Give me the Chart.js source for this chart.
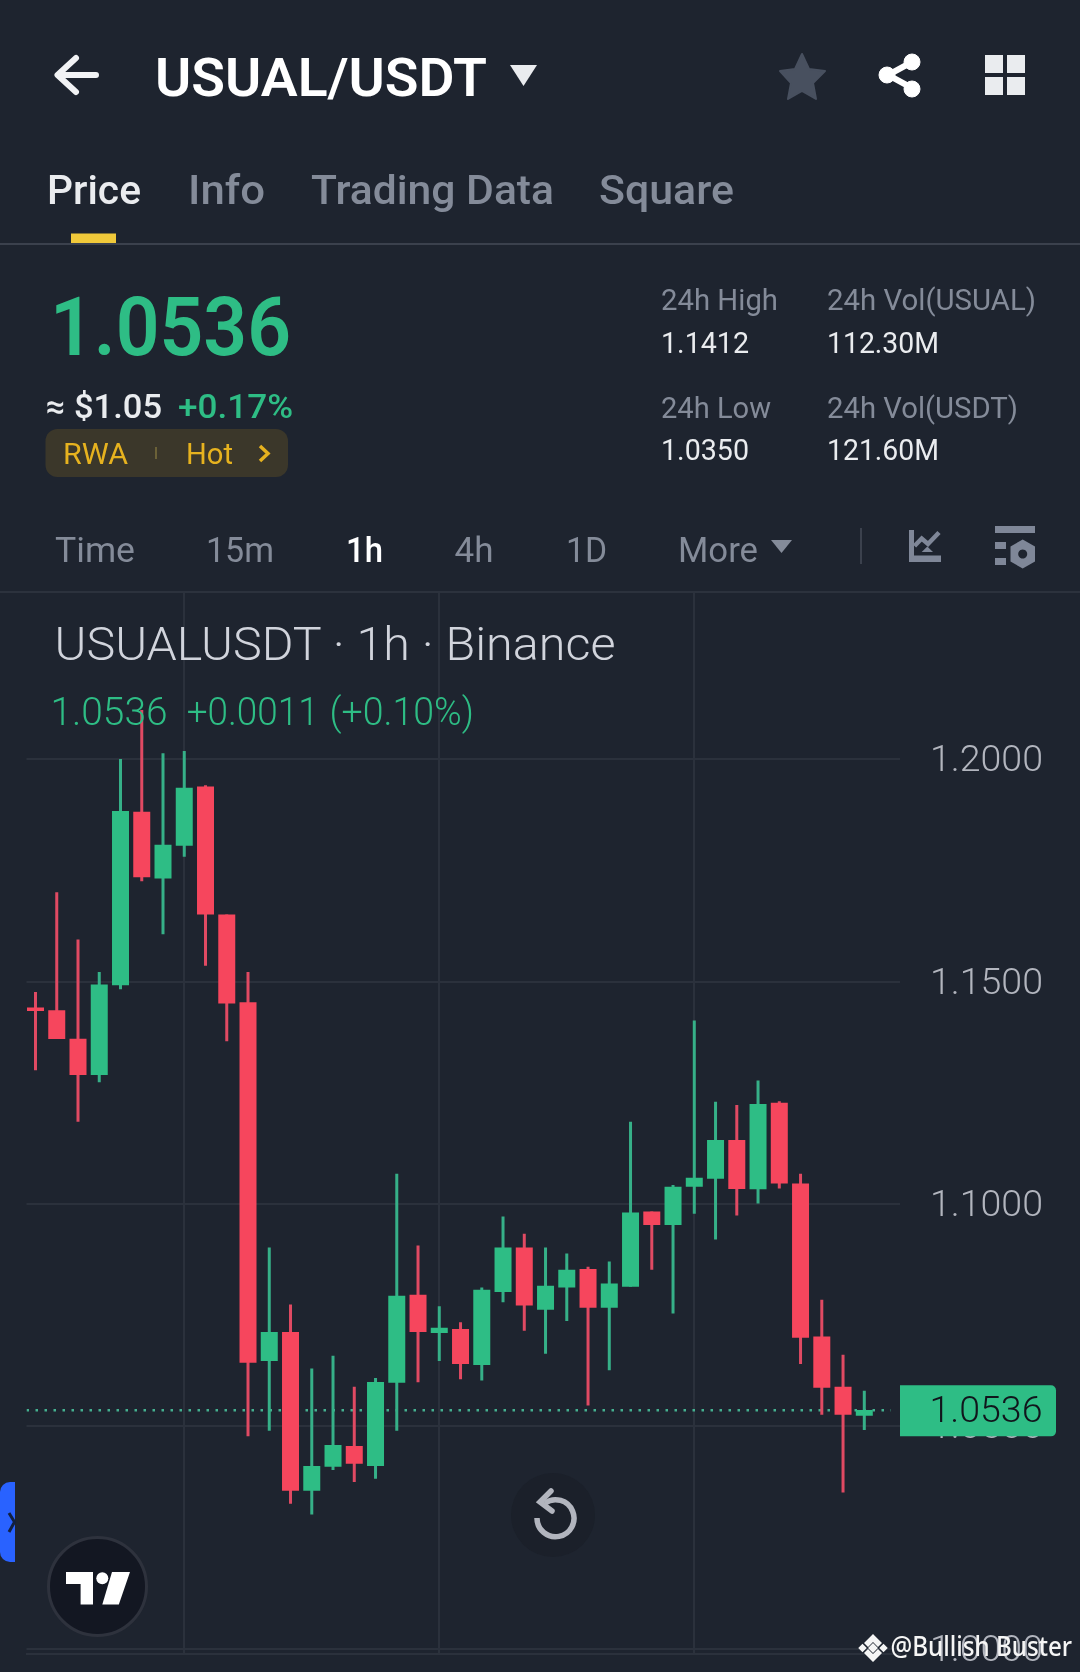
<!DOCTYPE html>
<html><head><meta charset="utf-8">
<script src="https://cdn.jsdelivr.net/npm/chart.js@4/dist/chart.umd.min.js"></script>
<style>
html,body{margin:0;padding:0;background:#1e242f;width:1080px;height:1672px;overflow:hidden}
#c{position:absolute;left:0;top:0;width:1080px;height:1672px}
#o{position:absolute;left:0;top:0}
text{font-family:Roboto,sans-serif;white-space:pre}
.g{fill:#848b99}.w{fill:#eaecef}.l{font-weight:300}
</style></head><body>
<canvas id="c" width="1080" height="1672"></canvas>
<svg id="o" width="1080" height="1672" viewBox="0 0 1080 1672">
<path d="M96 75H58M76 58 57.500 75 76 92" fill="none" stroke="#f2f3f5" stroke-width="6" stroke-linejoin="round" stroke-linecap="round"/>
<text x="155" y="96" font-size="53" font-weight="600" fill="#fff" textLength="332" lengthAdjust="spacingAndGlyphs">USUAL/USDT</text>
<path d="M510 65H537L523.500 86Z" fill="#eaecef"/>
<path d="M802 54 809 69 825 71 813 83 816 99 802 91 788 99 791 83 780 71 795 69Z" fill="#48505f" stroke="#48505f" stroke-width="2" stroke-linejoin="round"/>
<g fill="#fff" stroke="#fff"><path d="M912 62 888 75 912 88" fill="none" stroke-width="6"/><circle cx="912" cy="62" r="8"/><circle cx="887" cy="75" r="8"/><circle cx="912" cy="89" r="8"/></g>
<g fill="#eaecef"><rect x="985" y="55" width="18" height="18"/><rect x="1007" y="55" width="18" height="18"/><rect x="985" y="77" width="18" height="18"/><rect x="1007" y="77" width="18" height="18"/></g>

<text x="47" y="204" font-size="40" font-weight="500" class="w" textLength="94" lengthAdjust="spacingAndGlyphs">Price</text>
<text x="188" y="204" font-size="40" font-weight="500" class="g" textLength="77" lengthAdjust="spacingAndGlyphs">Info</text>
<text x="311" y="204" font-size="40" font-weight="500" class="g" textLength="243" lengthAdjust="spacingAndGlyphs">Trading Data</text>
<text x="599" y="204" font-size="40" font-weight="500" class="g" textLength="135" lengthAdjust="spacingAndGlyphs">Square</text>
<rect x="71" y="233.500" width="45" height="9.500" fill="#f0c93a"/>
<rect x="0" y="243" width="1080" height="2" fill="#3b414d"/>

<text x="50" y="355" font-size="82" font-weight="600" fill="#2ebd85" textLength="241" lengthAdjust="spacingAndGlyphs">1.0536</text>
<text x="45.500" y="418" font-size="34" font-weight="500" class="w">≈</text>
<text x="74" y="418" font-size="34" font-weight="500" class="w" textLength="88" lengthAdjust="spacingAndGlyphs">$1.05</text>
<text x="178" y="418" font-size="34" font-weight="500" fill="#2ebd85" textLength="115" lengthAdjust="spacingAndGlyphs">+0.17%</text>
<rect x="45.500" y="429" width="242.500" height="48" rx="12" fill="#3b372a"/>
<text x="63" y="464" font-size="29" fill="#e6b21f" textLength="65" lengthAdjust="spacingAndGlyphs">RWA</text>
<rect x="155" y="447" width="2" height="12" fill="#6b6137"/>
<text x="186" y="464" font-size="29" fill="#e6b21f" textLength="47" lengthAdjust="spacingAndGlyphs">Hot</text>
<path d="M260 446 268 453.500 260 461" fill="none" stroke="#e6b21f" stroke-width="3.500"/>

<text x="661" y="310" font-size="30" class="g" textLength="117" lengthAdjust="spacingAndGlyphs">24h High</text>
<text x="661" y="353" font-size="30" class="w" textLength="88" lengthAdjust="spacingAndGlyphs">1.1412</text>
<text x="827" y="310" font-size="30" class="g" textLength="209" lengthAdjust="spacingAndGlyphs">24h Vol(USUAL)</text>
<text x="827" y="353" font-size="30" class="w" textLength="112" lengthAdjust="spacingAndGlyphs">112.30M</text>
<text x="661" y="418" font-size="30" class="g" textLength="110" lengthAdjust="spacingAndGlyphs">24h Low</text>
<text x="661" y="460" font-size="30" class="w" textLength="88" lengthAdjust="spacingAndGlyphs">1.0350</text>
<text x="827" y="418" font-size="30" class="g" textLength="191" lengthAdjust="spacingAndGlyphs">24h Vol(USDT)</text>
<text x="827" y="460" font-size="30" class="w" textLength="112" lengthAdjust="spacingAndGlyphs">121.60M</text>

<text x="55" y="562" font-size="35" class="g" textLength="80" lengthAdjust="spacingAndGlyphs">Time</text>
<text x="206" y="562" font-size="35" class="g" textLength="68" lengthAdjust="spacingAndGlyphs">15m</text>
<text x="346" y="562" font-size="35" font-weight="500" fill="#fff" textLength="37" lengthAdjust="spacingAndGlyphs">1h</text>
<text x="454.500" y="562" font-size="35" class="g" textLength="39" lengthAdjust="spacingAndGlyphs">4h</text>
<text x="566" y="562" font-size="35" class="g" textLength="41" lengthAdjust="spacingAndGlyphs">1D</text>
<text x="678" y="562" font-size="35" class="g" textLength="80" lengthAdjust="spacingAndGlyphs">More</text>
<path d="M771 540H792L781.500 553Z" fill="#848b99"/>
<rect x="860" y="528" width="2" height="36" fill="#3b414d"/>
<path d="M909 530H914V555.500H941V562H909Z" fill="#7f8798"/>
<path d="M914.500 546 921.700 538.500 928 544 939 532.500" fill="none" stroke="#7f8798" stroke-width="4.500"/>
<path d="M921.700 552H933L927.300 546.500Z" fill="#7f8798"/>
<g fill="#7f8798"><rect x="995" y="526" width="40" height="7"/><rect x="995" y="542" width="11" height="7"/><rect x="995" y="558" width="11" height="7"/>
<path fill-rule="evenodd" d="M1022.700 539.500 1035 546.500V561.500L1022.700 568.500 1010.500 561.500V546.500ZM1022.700 549.500A4.500 4.500 0 1 0 1022.710 549.500Z"/></g>
<rect x="0" y="591" width="1080" height="2" fill="#2c323d"/>

<text x="54.500" y="660" font-size="47" class="l" fill="#d1d4dc" textLength="561" lengthAdjust="spacingAndGlyphs">USUALUSDT · 1h · Binance</text>
<text x="50.500" y="724.700" font-size="38.500" class="l" fill="#2ebd85" textLength="117" lengthAdjust="spacingAndGlyphs">1.0536</text>
<text x="186.700" y="724.700" font-size="38.500" class="l" fill="#2ebd85" textLength="132" lengthAdjust="spacingAndGlyphs">+0.0011</text>
<text x="329.500" y="724.700" font-size="38.500" class="l" fill="#2ebd85" textLength="144.500" lengthAdjust="spacingAndGlyphs">(+0.10%)</text>

<path d="M15 1482H10A10 10 0 0 0 0 1492V1552A10 10 0 0 0 10 1562H15Z" fill="#2962ff"/>
<path d="M9 1513 14.500 1522 9 1532" fill="none" stroke="#12203f" stroke-width="3"/>
<circle cx="97.500" cy="1586.500" r="49" fill="#131722" stroke="#2e323d" stroke-width="3"/>
<path d="M66 1572H93V1604.500H80.600V1584H66Z" fill="#fff"/><circle cx="102.300" cy="1578.300" r="6" fill="#fff"/><path d="M112 1572H130L118.800 1604.500H102.300Z" fill="#fff"/>
<circle cx="553" cy="1515" r="42" fill="#1b202a"/>
<path d="M545 1503A18.500 18.500 0 1 1 537 1518" fill="none" stroke="#b2b5be" stroke-width="5.500"/>
<path d="M551 1491 540 1502 552 1511" fill="none" stroke="#b2b5be" stroke-width="5.500" stroke-linecap="round"/>

<g fill="#f5f5f5"><path d="M873 1634 882 1643 878 1647 873 1642 868 1647 864 1643Z"/><path d="M873 1662 882 1653 878 1649 873 1654 868 1649 864 1653Z"/><rect x="-3.500" y="-3.500" width="7" height="7" transform="translate(873 1648) rotate(45)"/><rect x="-3" y="-3" width="6" height="6" transform="translate(862.500 1648) rotate(45)"/><rect x="-3" y="-3" width="6" height="6" transform="translate(883.500 1648) rotate(45)"/></g>
<text x="890.500" y="1656.400" font-size="27" font-weight="500" style="font-family:'Noto Sans'" fill="#f5f5f5" textLength="181.500" lengthAdjust="spacingAndGlyphs">@Bullish Buster</text>
</svg>
<script>
// Price axis tick labels
const priceTicks = [1.2, 1.15, 1.1, 1.05, 1.0];
// Hourly candle index gridlines
const timeGrid = [7, 19, 31];
const lastPrice = 1.0536;
// Candles, oldest first
const opens  = [1.1442,1.1436,1.1372,1.1290,1.1492,1.1882,1.1732,1.1806,1.1939,1.1651,1.1454,1.0647,1.0712,1.0355,1.0409,1.0456,1.0411,1.0598,1.0796,1.0710,1.0719,1.0638,1.0802,1.0902,1.0762,1.0812,1.0854,1.0767,1.0814,1.0983,1.0953,1.1039,1.1057,1.1144,1.1033,1.1228,1.1046,1.0702,1.0589,1.0524];
const closes = [1.1434,1.1371,1.1290,1.1494,1.1884,1.1735,1.1808,1.1936,1.1651,1.1451,1.0643,1.0712,1.0355,1.0411,1.0458,1.0416,1.0600,1.0794,1.0712,1.0722,1.0640,1.0807,1.0902,1.0772,1.0816,1.0852,1.0767,1.0821,1.0981,1.0953,1.1039,1.1059,1.1144,1.1034,1.1225,1.1046,1.0699,1.0587,1.0526,1.0537];
const highs  = [1.1477,1.1701,1.1595,1.1522,1.2001,1.2111,1.2014,1.2019,1.1942,1.1651,1.1522,1.0902,1.0774,1.0630,1.0659,1.0589,1.0609,1.1068,1.0907,1.0770,1.0734,1.0812,1.0972,1.0933,1.0902,1.0889,1.0859,1.0871,1.1185,1.0983,1.1043,1.1413,1.1230,1.1223,1.1278,1.1231,1.1068,1.0785,1.0661,1.0580];
const lows   = [1.1301,1.1371,1.1185,1.1274,1.1483,1.1726,1.1607,1.1781,1.1536,1.1366,1.0478,1.0490,1.0326,1.0302,1.0402,1.0375,1.0382,1.0490,1.0599,1.0647,1.0606,1.0603,1.0779,1.0715,1.0663,1.0737,1.0547,1.0626,1.0814,1.0852,1.0754,1.0978,1.0920,1.0974,1.1001,1.1035,1.0640,1.0526,1.0351,1.0492];

const UP='#2ebd85', DOWN='#f6465d', WUP='#36b088', WDOWN='#e04a63', GRID='#2b313c';
const isUp = i => closes[i] >= opens[i];
const tagPlugin = {
  id:'tag',
  afterDraw(chart){
    const {ctx, chartArea:a, scales:{y}} = chart;
    const py = y.getPixelForValue(lastPrice);
    ctx.save();
    ctx.fillStyle = UP;
    ctx.beginPath();
    ctx.roundRect(a.right, py-25, 156, 51, [0,5,5,0]);
    ctx.fill();
    ctx.fillStyle = '#11151c';
    ctx.font = '300 37.5px Roboto';
    ctx.textBaseline = 'middle';
    ctx.textAlign = 'left';
    ctx.fillText(lastPrice.toFixed(4), a.right+29.5, py+2);
    ctx.restore();
  }
};
new Chart(document.getElementById('c'), {
  type:'bar',
  plugins:[tagPlugin],
  data:{datasets:[
    {type:'bar',label:'Wick',order:2,grouped:false,barThickness:3,
      data:highs.map((h,i)=>({x:i,y:[lows[i],h]})),
      backgroundColor:ctx=>isUp(ctx.dataIndex)?WUP:WDOWN,borderWidth:0,inflateAmount:0},
    {type:'bar',label:'Body',order:1,grouped:false,barThickness:17,
      data:opens.map((o,i)=>({x:i,y:[o,closes[i]]})),
      backgroundColor:ctx=>isUp(ctx.dataIndex)?UP:DOWN,borderWidth:0,inflateAmount:0},
    {type:'line',label:'Last price',order:3,
      data:[{x:-0.4235,y:lastPrice},{x:40.25,y:lastPrice}],
      borderColor:'#44b090',borderWidth:2.5,borderDash:[2.5,6.5],pointRadius:0,fill:false}
  ]},
  options:{
    responsive:false,animation:false,devicePixelRatio:1,
    layout:{padding:{left:26.5,top:592,right:0,bottom:18}},
    plugins:{legend:{display:false},tooltip:{enabled:false},title:{display:false}},
    scales:{
      x:{type:'linear',offset:false,min:-0.4235,max:40.68,
        afterBuildTicks:s=>{s.ticks=timeGrid.map(v=>({value:v}));},
        afterFit:s=>{s.height=0;s.paddingLeft=0;s.paddingRight=0;},
        grid:{offset:false,color:GRID,lineWidth:2,drawTicks:false},
        border:{display:true,color:GRID,width:2},
        ticks:{display:false}},
      y:{type:'linear',position:'right',min:0.9988,max:1.23765,
        afterBuildTicks:s=>{s.ticks=priceTicks.map(v=>({value:v}));},
        afterFit:s=>{s.width=180;s.paddingTop=0;s.paddingBottom=0;},
        grid:{color:GRID,lineWidth:2,drawTicks:false},
        border:{display:false},
        ticks:{padding:30,labelOffset:2.5,color:'#b2b5be',font:{family:'Roboto',size:37.5,weight:'300'},autoSkip:false,
          callback:v=>v.toFixed(4)}}
    }
  }
});
</script>
</body></html>
